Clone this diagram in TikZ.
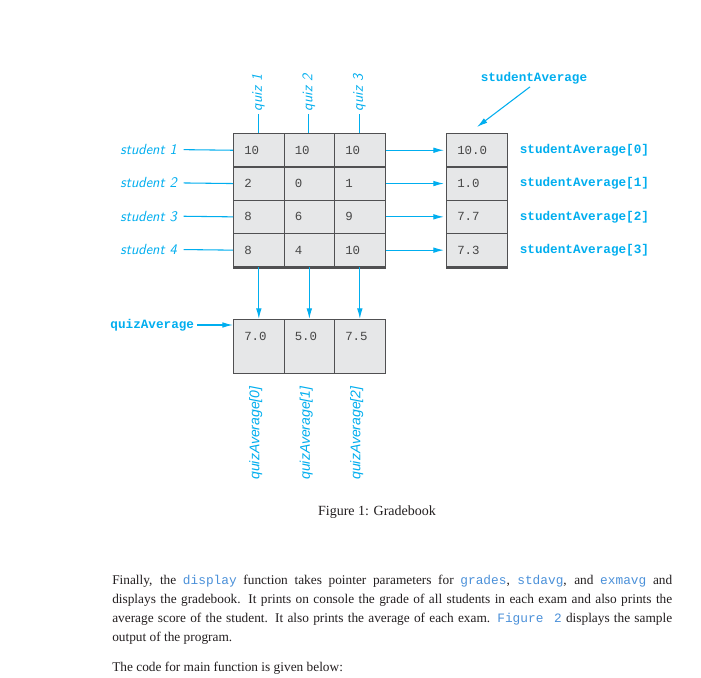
\documentclass[tikz,border=0pt]{standalone}
\usepackage{fontspec}
\setmainfont{Liberation Serif}
\newfontfamily\codefont{Liberation Mono}
\newfontfamily\labsans{Liberation Sans}
\usetikzlibrary{arrows.meta}
\definecolor{cy}{RGB}{0,174,239}
\definecolor{cellfill}{RGB}{230,231,232}
\definecolor{cellline}{RGB}{80,80,82}
\definecolor{valc}{RGB}{70,70,70}
\definecolor{codeblue}{RGB}{74,144,217}
\definecolor{txt}{RGB}{35,31,32}
\newcommand{\mycode}[1]{{\codefont\fontsize{9.6}{14.25}\selectfont\color{codeblue}#1}}
\begin{document}
\begin{tikzpicture}[x=0.75pt,y=-0.75pt,
  cell/.style={draw=cellline, line width=0.9pt, fill=cellfill, minimum width=37.875pt, minimum height=24.975pt, inner sep=0pt, anchor=north west},
  val/.style={font=\codefont\fontsize{9.3}{11}\selectfont, text=valc, inner sep=0pt, anchor=west},
  conn/.style={draw=cy, line width=0.8pt, -{Latex[length=8pt,width=4.2pt]}},
  cyline/.style={draw=cy, line width=0.8pt},
  stud/.style={font=\sffamily\itshape\fontsize{11}{13}\selectfont, text=cy, inner sep=3pt},
  quizl/.style={font=\sffamily\itshape\fontsize{11}{13}\selectfont, text=cy, inner sep=2pt},
  codeb/.style={font=\codefont\bfseries\fontsize{9.5}{11}\selectfont, text=cy, inner sep=2pt},
  qidx/.style={font=\labsans\itshape\fontsize{10.5}{12}\selectfont, text=cy, inner sep=0pt},
  thick bottom/.style={draw=cellline, line width=1.7pt}
]
\useasboundingbox (0,0) rectangle (701,678);
\fill[white] (0,0) rectangle (701,678);

% grade grid
\foreach \r/\vals in {1/{10,10,10},2/{2,0,1},3/{8,6,9},4/{8,4,10}} {
  \foreach \v [count=\c] in \vals {
    \node[cell] (c\r\c) at ({233+(\c-1)*50.5},{133+(\r-1)*33.3}) {};
    \node[val] (v\r\c) at ([xshift=8.25pt]c\r\c.west) {\v};
  }
}
\draw[thick bottom] (c41.south west) -- (c43.south east);

% student labels
\foreach \r in {1,...,4} {
  \node[stud, anchor=east] (s\r) at (181,{133+(\r-0.5)*33.3}) {student \r};
  \draw[cyline] ([xshift=2pt]s\r.east) -- (c\r1.west);
}

% quiz labels
\foreach \c in {1,2,3} {
  \node[quizl, rotate=90, anchor=west] (q\c) at ({233+(\c-0.5)*50.5},114) {quiz \c};
  \draw[cyline] (q\c.west) -- (q\c.west |- c1\c.north);
}

% student averages
\foreach \i/\v in {0/10.0,1/1.0,2/7.7,3/7.3} {
  \node[cell, minimum width=45.75pt] (a\i) at (446,{133+\i*33.3}) {};
  \node[val] (av\i) at ([xshift=8.25pt]a\i.west) {\v};
  \node[codeb, anchor=west] (al\i) at ([xshift=6.5pt]a\i.east) {studentAverage[\i]};
}
\draw[thick bottom] (a3.south west) -- (a3.south east);
\draw[conn, shorten >=1.5pt] (c13.east) -- (a0.west);
\draw[conn, shorten >=1.5pt] (c23.east) -- (a1.west);
\draw[conn, shorten >=1.5pt] (c33.east) -- (a2.west);
\draw[conn, shorten >=1.5pt] (c43.east) -- (a3.west);

\node[codeb] (sat) at (534,78) {studentAverage};
\coordinate (sap) at (477,127);
\draw[conn] ([xshift=-3pt]sat.south) -- (sap);

% quiz averages
\foreach \c/\v in {1/7.0,2/5.0,3/7.5} {
  \node[cell, minimum height=40.5pt] (qa\c) at ({233+(\c-1)*50.5},319) {};
  \node[val] (qv\c) at ([xshift=8.25pt,yshift=-12.75pt]qa\c.north west) {\v};
  \draw[conn] (c4\c.south) -- (qa\c.north);
}
\foreach \c/\i in {1/0,2/1,3/2} {
  \node[qidx, rotate=90, anchor=east] (qi\c) at ([xshift=-2.25pt,yshift=-9pt]qa\c.south) {quizAverage[\i]};
}
\node[codeb, anchor=east] (qal) at (197,325) {quizAverage};
\draw[conn] (qal.east) -- (qal.east -| qa1.west);

% caption
\node[text=txt, inner sep=0pt] (cap) at (377,512) {\fontsize{10.5}{12}\selectfont Figure 1: Gradebook};

% paragraph
\node[anchor=north west, inner sep=0pt, text width=420pt, align=justify, text=txt,
      font=\fontsize{10}{14.25}\selectfont] (para) at (112,574.5)
  {Finally, the \mycode{display} function takes pointer parameters for \mycode{grades}, \mycode{stdavg}, and \mycode{exmavg} and\linebreak
   displays the gradebook. It prints on console the grade of all students in each exam and also prints the\linebreak
   average score of the student. It also prints the average of each exam. \mycode{Figure\kern8pt 2} displays the sample\linebreak
   output of the program.};
\node[anchor=base west, inner sep=0pt, text=txt, font=\fontsize{10}{14.25}\selectfont] (last) at (112,671)
  {The code for main function is given below:};
\end{tikzpicture}
\end{document}
